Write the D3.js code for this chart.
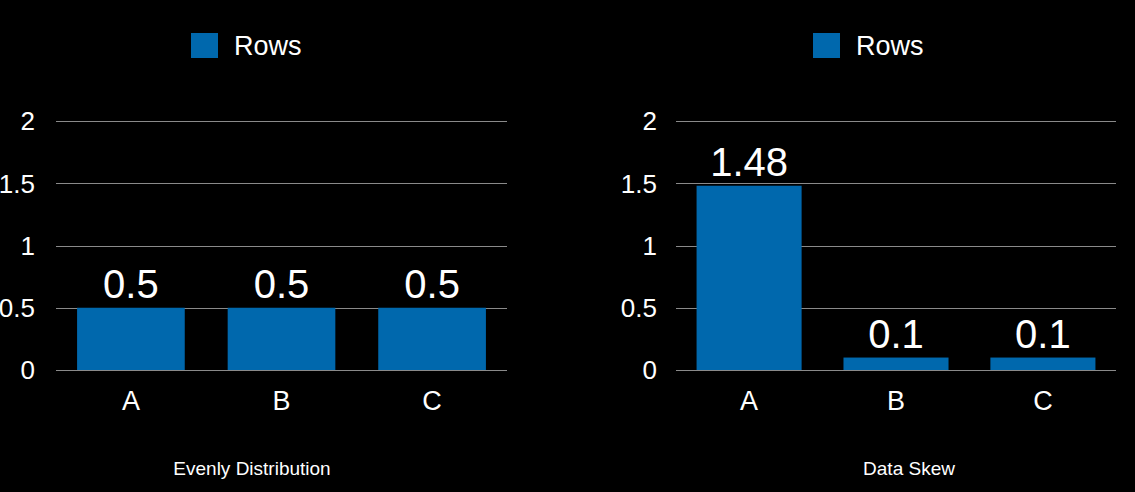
<!DOCTYPE html>
<html><head><meta charset="utf-8">
<script src="https://cdn.jsdelivr.net/npm/d3@7"></script>
<style>html,body{margin:0;padding:0;background:#000;}svg{display:block;}</style>
</head><body>
<svg id="chart" width="1135" height="492"></svg>
<script>
const categories = ["A", "B", "C"];
const seriesName = "Rows";
const evenValues = [0.5, 0.5, 0.5];
const skewValues = [1.48, 0.1, 0.1];
const yTicks = [0, 0.5, 1, 1.5, 2];
const titles = ["Evenly Distribution", "Data Skew"];

const svg = d3.select("#chart");
const FONT = "'Liberation Sans', Arial, Helvetica, sans-serif";
const BLUE = "#0068ad";

const panels = [
  {values: evenValues, title: titles[0], x0: 56, x1: 507, legendX: 191, titleX: 252, labelGap: 21},
  {values: skewValues, title: titles[1], x0: 676, x1: 1116, legendX: 813, titleX: 909, labelGap: 19}
];

panels.forEach(p => {
  const g = svg.append("g");
  const y = d3.scaleLinear().domain([0, 2]).range([370, 121]);
  const x = d3.scaleBand().domain(categories).range([p.x0, p.x1])
    .paddingInner(0.285).paddingOuter(0.14);

  g.selectAll("line.grid").data(yTicks).join("line")
    .attr("x1", p.x0).attr("x2", p.x1)
    .attr("y1", d => Math.round(y(d)) + 0.5).attr("y2", d => Math.round(y(d)) + 0.5)
    .attr("stroke", "#8a8a8a").attr("stroke-width", 1);

  g.selectAll("text.yt").data(yTicks).join("text")
    .attr("x", p.x0 - p.labelGap).attr("y", d => y(d))
    .attr("dy", "0.36em").attr("text-anchor", "end")
    .attr("fill", "#fff").attr("font-family", FONT).attr("font-size", 26)
    .text(d => d3.format("~g")(d));

  g.selectAll("rect.bar").data(p.values).join("rect")
    .attr("x", (d, i) => x(categories[i])).attr("width", x.bandwidth())
    .attr("y", d => y(d)).attr("height", d => y(0) - y(d))
    .attr("fill", BLUE);

  g.selectAll("text.val").data(p.values).join("text")
    .attr("x", (d, i) => x(categories[i]) + x.bandwidth() / 2)
    .attr("y", d => y(d) - 10)
    .attr("text-anchor", "middle")
    .attr("fill", "#fff").attr("font-family", FONT).attr("font-size", 40)
    .text(d => d3.format("~g")(d));

  g.selectAll("text.xl").data(categories).join("text")
    .attr("x", d => x(d) + x.bandwidth() / 2).attr("y", 410)
    .attr("text-anchor", "middle")
    .attr("fill", "#fff").attr("font-family", FONT).attr("font-size", 27)
    .text(d => d);

  g.append("rect").attr("x", p.legendX).attr("y", 33).attr("width", 27).attr("height", 25).attr("fill", BLUE);
  g.append("text").attr("x", p.legendX + 43).attr("y", 55)
    .attr("fill", "#fff").attr("font-family", FONT).attr("font-size", 27)
    .text(seriesName);

  g.append("text").attr("x", p.titleX).attr("y", 475).attr("text-anchor", "middle")
    .attr("fill", "#fff").attr("font-family", FONT).attr("font-size", 19)
    .text(p.title);
});
</script>
</body></html>
